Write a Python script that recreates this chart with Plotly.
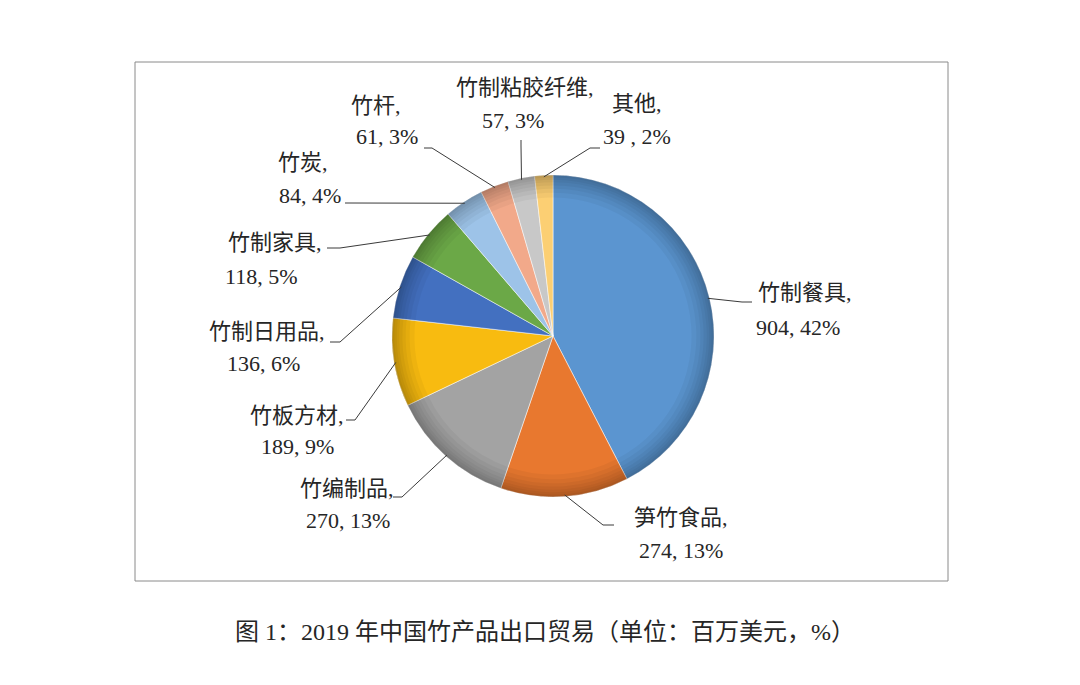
import math
import plotly.graph_objects as go

# ---- data ----
categories = ["竹制餐具", "笋竹食品", "竹编制品", "竹板方材", "竹制日用品",
              "竹制家具", "竹炭", "竹杆", "竹制粘胶纤维", "其他"]
values = [904, 274, 270, 189, 136, 118, 84, 61, 57, 39]
percents = [42, 13, 13, 9, 6, 5, 4, 3, 3, 2]
value_text = ["904", "274", "270", "189", "136", "118", "84", "61", "57", "39 "]

colors = ["#5B95D0", "#E8782F", "#A3A3A3", "#F8BB10", "#4370C0",
          "#6BA847", "#9DC3E8", "#F2A98A", "#C8C8C8", "#FCCF73"]

caption = "图 1：2019 年中国竹产品出口贸易（单位：百万美元，%）"

# ---- layout (pixels) ----
W, H = 1080, 685
CX, CY, R = 553, 336, 161
FONT = "Liberation Serif, 'Noto Sans CJK SC', serif"
TXT = "#262626"

# label placement: name center, value center, elbow, line end
label_pos = {
    "竹制餐具":     ((805, 292), (798, 327), (742, 302), (752, 302)),
    "笋竹食品":     ((681, 517), (681, 550), (603, 525), (614, 525)),
    "竹编制品":     ((347, 488), (348, 520), (402, 497), (393, 497)),
    "竹板方材":     ((297, 415), (297, 447), (355, 420), (346, 420)),
    "竹制日用品":   ((267, 332), (263, 363), (340, 342), (330, 342)),
    "竹制家具":     ((275, 242), (261, 277), (340, 248), (327, 248)),
    "竹炭":         ((303, 163), (310, 195), (350, 203), (345, 203)),
    "竹杆":         ((376, 105), (387, 137), (432, 148), (424, 148)),
    "竹制粘胶纤维": ((525, 88), (513, 121), (521, 146), (521, 140)),
    "其他":         ((637, 103), (637, 137), (590, 148), (600, 148)),
}


def px(x):
    return x / W


def py(y):
    return 1 - y / H


domain = dict(x=[px(CX - R), px(CX + R)], y=[py(CY + R), py(CY - R)])

fig = go.Figure()
fig.add_trace(go.Pie(
    labels=categories, values=values, sort=False, direction="clockwise",
    rotation=0, domain=domain, textinfo="none", hoverinfo="skip",
    marker=dict(colors=colors, line=dict(color="rgba(255,255,255,0.5)", width=1)),
))
# smooth rim shading to mimic the bevel
for hole in [0.86, 0.89, 0.915, 0.935, 0.955, 0.97, 0.985]:
    fig.add_trace(go.Pie(
        labels=categories, values=values, sort=False, direction="clockwise",
        rotation=0, domain=domain, textinfo="none", hoverinfo="skip", hole=hole,
        marker=dict(colors=["rgba(0,0,0,0.04)"] * len(values),
                    line=dict(color="rgba(0,0,0,0)", width=0)),
    ))

total = sum(values)
shapes = []
annotations = []
cum = 0
for cat, v, vt, p in zip(categories, values, value_text, percents):
    mid = (cum + v / 2) / total * 2 * math.pi
    cum += v
    sx = CX + R * 0.99 * math.sin(mid)
    sy = CY - R * 0.99 * math.cos(mid)
    (nx, ny), (vx, vy), (ex, ey), (tx, ty) = label_pos[cat]
    shapes.append(dict(type="path", xref="paper", yref="paper",
                       path=f"M {px(sx)},{py(sy)} L {px(ex)},{py(ey)} L {px(tx)},{py(ty)}",
                       line=dict(color="#3a3a3a", width=1)))
    annotations.append(dict(x=px(nx), y=py(ny), xref="paper", yref="paper",
                            text=f"{cat},", showarrow=False, xanchor="center",
                            yanchor="middle", font=dict(family=FONT, size=22, color=TXT)))
    annotations.append(dict(x=px(vx), y=py(vy), xref="paper", yref="paper",
                            text=f"{vt}, {p}%", showarrow=False, xanchor="center",
                            yanchor="middle", font=dict(family=FONT, size=22, color=TXT)))

# chart border
shapes.append(dict(type="rect", xref="paper", yref="paper",
                   x0=px(135), x1=px(948), y0=py(581), y1=py(62),
                   line=dict(color="#8a8a8a", width=1)))

annotations.append(dict(x=px(545), y=py(632), xref="paper", yref="paper",
                        text=caption, showarrow=False, xanchor="center", yanchor="middle",
                        font=dict(family=FONT, size=24, color=TXT)))

fig.update_layout(width=W, height=H, margin=dict(l=0, r=0, t=0, b=0),
                  paper_bgcolor="white", plot_bgcolor="white", showlegend=False,
                  shapes=shapes, annotations=annotations)

fig.write_html("out.html")
